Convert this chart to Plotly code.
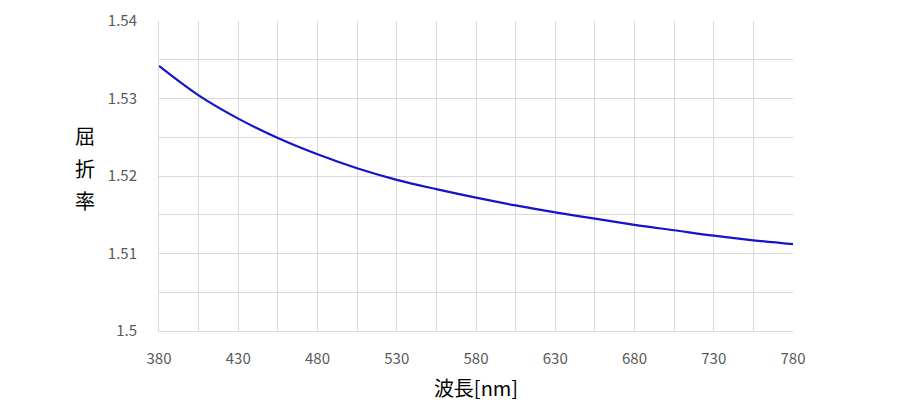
import plotly.graph_objects as go

wavelength = [380, 405, 430, 455, 480, 505, 530, 555, 580, 605, 630, 655, 680, 705, 730, 755, 780]
index = [1.5342, 1.5304, 1.5274, 1.5249, 1.5228, 1.5210, 1.5195, 1.5183, 1.5172, 1.5162, 1.5153, 1.5145, 1.5137, 1.5130, 1.5123, 1.5117, 1.5112]
ylabel_chars = ["屈", "折", "率"]

font = "Noto Sans CJK JP"

fig = go.Figure(
    go.Scatter(x=wavelength, y=index, mode="lines", line=dict(color="#1414C8", width=2.2, shape="spline"))
)
fig.update_xaxes(
    range=[380, 780], tickvals=list(range(380, 781, 50)), showgrid=True, gridcolor="#D9D9D9",
    minor=dict(dtick=25, tick0=380, showgrid=True, gridcolor="#D9D9D9"),
    zeroline=False, showline=True, linecolor="#D9D9D9", automargin=False,
    ticks="outside", ticklen=14, tickcolor="rgba(0,0,0,0)",
    tickfont=dict(family=font, size=15, color="#595959"),
    title=dict(text="波長[nm]", font=dict(family=font, size=20, color="#000000"), standoff=14),
)
fig.update_yaxes(
    range=[1.5, 1.54], tickvals=[1.5, 1.51, 1.52, 1.53, 1.54], ticktext=["1.5", "1.51", "1.52", "1.53", "1.54"],
    showgrid=True, gridcolor="#D9D9D9",
    minor=dict(dtick=0.005, showgrid=True, gridcolor="#D9D9D9"),
    zeroline=False, showline=True, linecolor="#D9D9D9", automargin=False,
    ticks="outside", ticklen=18, tickcolor="rgba(0,0,0,0)",
    tickfont=dict(family=font, size=15, color="#595959"),
)
for i, ch in enumerate(ylabel_chars):
    fig.add_annotation(
        text=ch, xref="paper", yref="paper", x=-0.135, y=0.63 - i * 0.105, showarrow=False,
        font=dict(family=font, size=20, color="#000000"),
    )
fig.update_layout(
    width=900, height=400, showlegend=False,
    plot_bgcolor="white", paper_bgcolor="white",
    margin=dict(l=151, r=115, t=13, b=77, autoexpand=False),
)
fig.write_html("out.html")
